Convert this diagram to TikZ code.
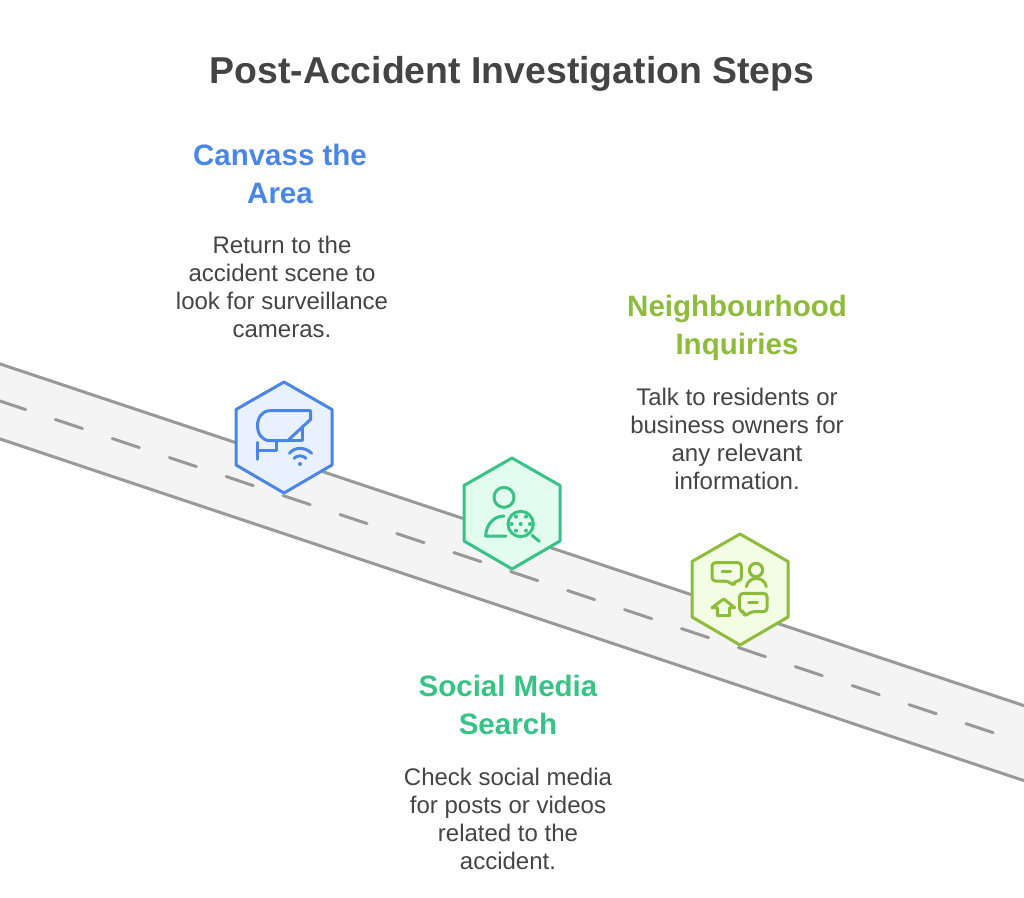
\documentclass[tikz,border=0pt]{standalone}
\usepackage{fontspec}
\setmainfont{Liberation Sans}
\definecolor{roadgray}{HTML}{999999}
\definecolor{roadfill}{HTML}{F4F4F4}
\definecolor{textgray}{HTML}{444444}
\definecolor{areablue}{HTML}{4A86E8}
\definecolor{areafill}{HTML}{E9F1FF}
\definecolor{searchgreen}{HTML}{38C386}
\definecolor{searchfill}{HTML}{E3FCF0}
\definecolor{askgreen}{HTML}{8DBB3A}
\definecolor{askfill}{HTML}{F2FDE3}

\begin{document}
\begin{tikzpicture}[x=1pt, y=-1pt,
    roadedge/.style={roadgray, line width=3pt},
    roaddash/.style={roadgray, line width=3pt, line cap=round, dash pattern=on 28.6pt off 31.4pt},
    hexline/.style={line width=3pt, line join=round},
    iconline/.style={line width=3pt, line cap=round, line join=round},
    headline/.style={font=\fontsize{29.5}{38}\selectfont\bfseries, align=center},
    bodytext/.style={font=\fontsize{24}{28}\selectfont, text=textgray, align=center}]

    \useasboundingbox (0,0) rectangle (1024,897);

    % Road
    \coordinate (topL) at (-2,363.3);
    \coordinate (topR) at (1026,706.3);
    \coordinate (botL) at (-2,438.3);
    \coordinate (botR) at (1026,781.3);
    \coordinate (midL) at (-1.5,400.5);
    \coordinate (midR) at (1018,741);
    \fill[roadfill] (topL) -- (topR) -- (botR) -- (botL) -- cycle;
    \draw[roadedge] (topL) -- (topR);
    \draw[roadedge] (botL) -- (botR);
    \draw[roaddash] (midL) -- (midR);

    % Title
    \node[font=\fontsize{37.4}{46}\selectfont\bfseries, text=textgray] (title) at (512,74) {Post-Accident Investigation Steps};

    % Canvass the area
    \node[headline, text=areablue] (areahead) at (280,174) {Canvass the\\Area};
    \node[bodytext] (areabody) at (282,287) {Return to the\\accident scene to\\look for surveillance\\cameras.};
    \draw[hexline, areablue, fill=areafill] (284,382) -- (332,409.5) -- (332,465) -- (284,493) -- (236,465) -- (236,409.5) -- cycle;
    \begin{scope}[shift={(220,370)}, scale=1/3, iconline, areablue]
        \draw (272,122) -- (150,122) .. controls (100,122) and (100,212) .. (150,212) -- (203,212) -- (272,148) -- cycle;
        \draw (203,212) -- (248,212) -- (248,168);
        \draw (113,217) -- (113,268);
        \draw (113,240) -- (168,240) -- (168,214);
        \draw (208,250) .. controls (225,230) and (255,230) .. (275,250);
        \draw (222,265) .. controls (232,255) and (248,255) .. (258,265);
        \fill (240,282) circle (6);
    \end{scope}

    % Social media search
    \node[headline, text=searchgreen] (searchhead) at (508,705) {Social Media\\Search};
    \node[bodytext] (searchbody) at (508,819) {Check social media\\for posts or videos\\related to the\\accident.};
    \draw[hexline, searchgreen, fill=searchfill] (512,458) -- (560,485.5) -- (560,541) -- (512,569) -- (464,541) -- (464,485.5) -- cycle;
    \begin{scope}[shift={(450,450)}, scale=1/3, iconline, searchgreen]
        \draw (162,142) circle (30);
        \draw (162,198) .. controls (130,198) and (108,225) .. (107,258) -- (168,258);
        \draw (212,222) circle (38);
        \draw (246,256) -- (268,274);
        \foreach \dotx/\doty in {198/200,228/200,185/222,212/222,240/222,198/242,228/242}
            \fill (\dotx,\doty) circle (6);
    \end{scope}

    % Neighbourhood inquiries
    \node[headline, text=askgreen] (askhead) at (737,328) {Neighbourhood\\Inquiries};
    \node[bodytext] (askbody) at (737,439) {Talk to residents or\\business owners for\\any relevant\\information.};
    \draw[hexline, askgreen, fill=askfill] (740,534) -- (788,561.5) -- (788,617) -- (740,645) -- (692,617) -- (692,561.5) -- cycle;
    \begin{scope}[shift={(678,525)}, scale=1/3, iconline, askgreen]
        \draw[rounded corners=3.5pt] (102,113) -- (190,113) -- (190,168) -- (168,168) -- (168,183) -- (150,168) -- (102,168) -- cycle;
        \draw (132,140) -- (158,140);
        \draw (234,135) circle (20);
        \draw (205,185) .. controls (212,152) and (258,152) .. (265,185);
        \draw (102,248) -- (137,222) -- (170,248) -- (155,248) -- (155,272) -- (118,272) -- (118,248) -- cycle;
        \draw[rounded corners=3.5pt] (185,205) -- (267,205) -- (267,260) -- (218,260) -- (200,275) -- (200,260) -- (185,260) -- cycle;
        \draw (212,232) -- (238,232);
    \end{scope}
\end{tikzpicture}
\end{document}
